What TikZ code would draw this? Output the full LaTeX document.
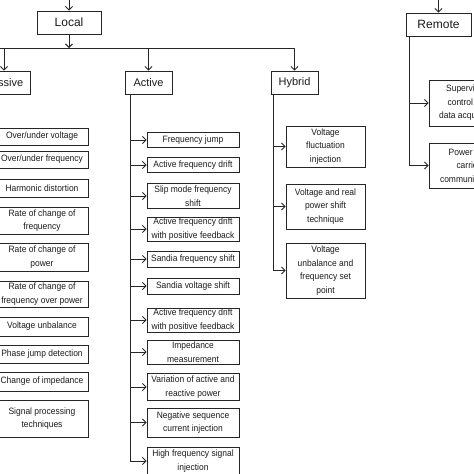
\documentclass[tikz,border=0pt]{standalone}
\usepackage{fontspec}
\setmainfont{Liberation Sans}
\newfontfamily\itemfont{Liberation Sans}[FakeStretch=0.92]
\usetikzlibrary{arrows.meta}
\definecolor{linec}{HTML}{262626}
\definecolor{textc}{HTML}{1A1A1A}
\begin{document}
\begin{tikzpicture}[x=1pt,y=-1pt,
  box/.style={draw=linec, line width=0.9pt, inner sep=1pt, align=center,
    font=\itemfont\fontsize{9.2}{13.5}\selectfont, text=textc},
  pbox/.style={box, minimum width=92pt},
  abox/.style={box, minimum width=92pt},
  hbox/.style={box, minimum width=79pt},
  rbox/.style={box, minimum width=79pt},
  head/.style={draw=linec, line width=0.9pt, font=\fontsize{11}{13}\selectfont,
    text=textc, minimum width=47pt, minimum height=23pt, inner sep=0pt},
  conn/.style={draw=linec, line width=0.9pt},
  arr/.style={conn, -{Straight Barb[length=3.5pt,width=7pt]}}]
\useasboundingbox (0,0) rectangle (474,474);
\clip (0,0) rectangle (474,474);

% headers
\node[head, minimum width=64pt, font=\fontsize{12}{14}\selectfont] (loc) at (69,22.5) {Local};
\node[head, minimum width=65pt, font=\fontsize{12}{14}\selectfont] (rem) at (438.5,24.5) {Remote};
\node[head, minimum width=52pt] (pas) at (4,82.5) {Passive};
\node[head] (act) at (148.5,82.5) {Active};
\node[head] (hyb) at (294.5,82.5) {Hybrid};

\coordinate (toploc) at (69,-10);
\coordinate (toprem) at (438.5,-10);
\coordinate (bus) at (69,48);
\coordinate (busL) at (-30,48);

\draw[arr] (toploc) -- (loc.north);
\draw[arr] (toprem) -- (rem.north);
\draw[arr] (loc.south) -- (bus);
\draw[arr] (busL) -| (hyb.north);
\draw[arr] (bus -| act.north) -- (act.north);
\draw[arr] (bus -| pas.north) -- (pas.north);

% passive
\node[pbox, minimum height=17pt] (p1) at (42,136.5) {Over/under voltage};
\node[pbox, minimum height=17pt] (p2) at (42,159.5) {Over/under frequency};
\node[pbox, minimum height=18pt] (p3) at (42,188) {Harmonic distortion};
\node[pbox, minimum height=27pt] (p4) at (42,220.5) {Rate of change of\\frequency};
\node[pbox, minimum height=28pt] (p5) at (42,257) {Rate of change of\\power};
\node[pbox, minimum height=26pt] (p6) at (42,294) {Rate of change of\\frequency over power};
\node[pbox, minimum height=19pt] (p7) at (42,326.5) {Voltage unbalance};
\node[pbox, minimum height=18pt] (p8) at (42,354) {Phase jump detection};
\node[pbox, minimum height=19pt] (p9) at (42,381.5) {Change of impedance};
\node[pbox, minimum height=37pt] (p10) at (42,418.5) {Signal processing\\techniques};

% active
\node[abox, minimum height=15pt] (a1) at (193,140) {Frequency jump};
\node[abox, minimum height=15pt] (a2) at (193,165) {Active frequency drift};
\node[abox, minimum height=25pt] (a3) at (193,196) {Slip mode frequency\\shift};
\node[abox, minimum height=23pt] (a4) at (193,229) {Active frequency drift\\with positive feedback};
\node[abox, minimum height=16pt] (a5) at (193,259) {Sandia frequency shift};
\node[abox, minimum height=16pt] (a6) at (193,286) {Sandia voltage shift};
\node[abox, minimum height=24pt] (a7) at (193,320) {Active frequency drift\\with positive feedback};
\node[abox, minimum height=24pt] (a8) at (193,352) {Impedance\\measurement};
\node[abox, minimum height=27pt] (a9) at (193,387) {Variation of active and\\reactive power};
\node[abox, minimum height=29pt] (a10) at (193,422.5) {Negative sequence\\current injection};
\node[abox, minimum height=28pt] (a11) at (193,461) {High frequency signal\\injection};
\foreach \i in {1,...,11}{
  \draw[arr] ([xshift=6pt]act.south west) |- (a\i.west);
}

% hybrid
\node[hbox, minimum height=41pt] (h1) at (325.5,146.5) {Voltage\\fluctuation\\injection};
\node[hbox, minimum height=45pt] (h2) at (325.5,206.5) {Voltage and real\\power shift\\technique};
\node[hbox, minimum height=55pt] (h3) at (325.5,270.5) {Voltage\\unbalance and\\frequency set\\point};
\foreach \i in {1,2,3}{
  \draw[arr] ([xshift=3pt]hyb.south west) |- (h\i.west);
}

% remote
\node[rbox, minimum height=46pt] (r1) at (468.5,103) {Supervisory\\control and\\data acquisition};
\node[rbox, minimum height=45pt] (r2) at (468.5,165.5) {Power line\\carrier\\communication};
\foreach \i in {1,2}{
  \draw[arr] ([xshift=4pt]rem.south west) |- (r\i.west);
}
\end{tikzpicture}
\end{document}
